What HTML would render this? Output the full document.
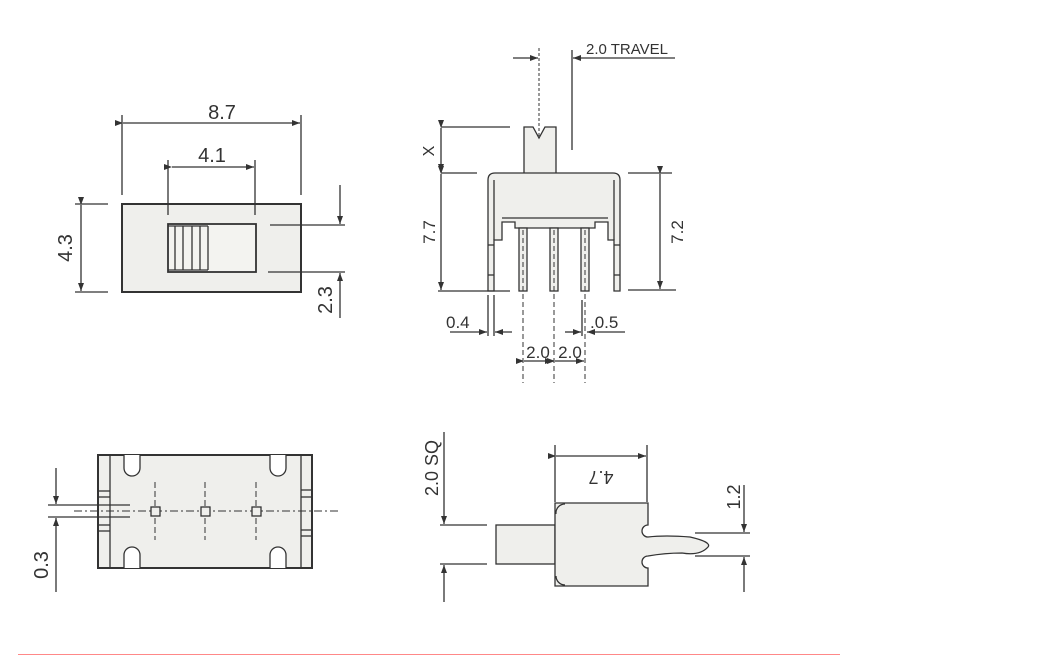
<!DOCTYPE html>
<html><head><meta charset="utf-8"><style>
html,body{margin:0;padding:0;background:#fff;}
svg{display:block;}
text{font-family:"Liberation Sans",sans-serif;fill:#333;}
</style></head><body>
<svg width="1049" height="655" viewBox="0 0 1049 655" xmlns="http://www.w3.org/2000/svg">
<defs>
<marker id="a" markerWidth="8" markerHeight="6" refX="8" refY="3" orient="auto" markerUnits="userSpaceOnUse"><path d="M0,0 L8,3 L0,6 Z" fill="#333"/></marker>
</defs>
<g stroke="#333" stroke-width="1.3" fill="none">
<!-- View 1 -->
<rect x="122" y="204" width="179" height="88" fill="#efefec" stroke-width="2"/>
<rect x="168" y="224" width="88" height="48" fill="#f3f3f0" stroke-width="1.8"/>
<line x1="175" y1="226" x2="175" y2="270"/><line x1="183" y1="226" x2="183" y2="270"/>
<line x1="192" y1="226" x2="192" y2="270"/><line x1="200" y1="226" x2="200" y2="270"/>
<line x1="208" y1="226" x2="208" y2="270"/>
<line x1="168" y1="226" x2="208" y2="226"/><line x1="168" y1="270" x2="208" y2="270"/>
<line x1="122" y1="115" x2="122" y2="195"/><line x1="301" y1="115" x2="301" y2="195"/>
<line x1="123" y1="123" x2="300" y2="123" marker-start="url(#a)" marker-end="url(#a)"/>
<line x1="168" y1="160" x2="168" y2="215"/><line x1="255" y1="160" x2="255" y2="215"/>
<line x1="172" y1="167" x2="254" y2="167" marker-start="url(#a)" marker-end="url(#a)"/>
<line x1="75" y1="204" x2="108" y2="204"/><line x1="75" y1="292" x2="108" y2="292"/>
<line x1="81" y1="205" x2="81" y2="291" marker-start="url(#a)" marker-end="url(#a)"/>
<line x1="270" y1="225" x2="345" y2="225"/><line x1="268" y1="272" x2="345" y2="272"/>
<line x1="340" y1="185" x2="340" y2="224" marker-end="url(#a)"/>
<line x1="340" y1="318" x2="340" y2="273" marker-end="url(#a)"/>
<!-- View 2 -->
<line x1="539" y1="48" x2="539" y2="178" stroke-dasharray="3,2" stroke-width="1"/>
<line x1="513" y1="58" x2="538" y2="58" marker-end="url(#a)"/>
<line x1="675" y1="58" x2="573" y2="58" marker-end="url(#a)"/>
<line x1="572" y1="50" x2="572" y2="150"/>
<path d="M524,173 L524,127 L533,127 L539,138 L545,127 L556,127 L556,173" fill="#efefec"/>
<path d="M488,291 L488,180 Q488,173 495,173 L613,173 Q620,173 620,180 L620,291 L614,291 L614,240 L608,240 L608,222 L595,222 L595,228 L515,228 L515,222 L502,222 L502,240 L494,240 L494,291 Z" fill="#efefec"/>
<line x1="494" y1="180" x2="494" y2="240"/><line x1="614" y1="180" x2="614" y2="240"/>
<line x1="502" y1="218" x2="608" y2="218"/>
<line x1="488" y1="245" x2="494" y2="245"/><line x1="614" y1="245" x2="620" y2="245"/>
<line x1="488" y1="275" x2="494" y2="275"/><line x1="614" y1="275" x2="620" y2="275"/>
<rect x="519" y="228" width="8" height="63" fill="#efefec"/>
<rect x="550" y="228" width="8" height="63" fill="#efefec"/>
<rect x="581" y="228" width="8" height="63" fill="#efefec"/>
<g stroke-dasharray="5,3" stroke-width="1">
<line x1="523" y1="230" x2="523" y2="383"/><line x1="554" y1="230" x2="554" y2="383"/><line x1="585" y1="230" x2="585" y2="383"/>
</g>
<line x1="441" y1="127" x2="510" y2="127"/><line x1="441" y1="173" x2="477" y2="173"/><line x1="438" y1="291" x2="510" y2="291"/>
<line x1="441" y1="128" x2="441" y2="172" marker-start="url(#a)" marker-end="url(#a)"/>
<line x1="441" y1="174" x2="441" y2="290" marker-start="url(#a)" marker-end="url(#a)"/>
<line x1="628" y1="173" x2="672" y2="173"/><line x1="628" y1="290" x2="676" y2="290"/>
<line x1="660" y1="174" x2="660" y2="289" marker-start="url(#a)" marker-end="url(#a)"/>
<line x1="488" y1="295" x2="488" y2="336"/><line x1="494" y1="295" x2="494" y2="336"/>
<line x1="450" y1="332" x2="487" y2="332" marker-end="url(#a)"/>
<line x1="512" y1="332" x2="495" y2="332" marker-end="url(#a)"/>
<line x1="582" y1="300" x2="582" y2="336"/>
<line x1="565" y1="332" x2="581" y2="332" marker-end="url(#a)"/>
<line x1="625" y1="332" x2="587" y2="332" marker-end="url(#a)"/>
<line x1="524" y1="361" x2="553" y2="361" marker-start="url(#a)" marker-end="url(#a)"/>
<line x1="555" y1="361" x2="584" y2="361" marker-start="url(#a)" marker-end="url(#a)"/>
<!-- View 3 -->
<rect x="98" y="455" width="214" height="113" fill="#efefec" stroke-width="2"/>
<line x1="110" y1="455" x2="110" y2="568"/><line x1="301" y1="455" x2="301" y2="568"/>
<path d="M124,455 L124,468 A8,8 0 0 0 140,468 L140,455" fill="#fff"/>
<path d="M270,455 L270,468 A8,8 0 0 0 286,468 L286,455" fill="#fff"/>
<path d="M124,568 L124,555 A8,8 0 0 1 140,555 L140,568" fill="#fff"/>
<path d="M270,568 L270,555 A8,8 0 0 1 286,555 L286,568" fill="#fff"/>
<line x1="98" y1="491" x2="110" y2="491"/><line x1="98" y1="497" x2="110" y2="497"/>
<line x1="98" y1="525" x2="110" y2="525"/><line x1="98" y1="531" x2="110" y2="531"/>
<line x1="301" y1="490" x2="312" y2="490"/><line x1="301" y1="497" x2="312" y2="497"/>
<line x1="301" y1="530" x2="312" y2="530"/><line x1="301" y1="536" x2="312" y2="536"/>
<line x1="74" y1="511" x2="340" y2="511" stroke-dasharray="8,3,2,3" stroke-width="1"/>
<g stroke-dasharray="6,3" stroke-width="1">
<line x1="155" y1="482" x2="155" y2="540"/><line x1="205" y1="482" x2="205" y2="540"/><line x1="256" y1="482" x2="256" y2="540"/>
</g>
<rect x="151" y="507" width="9" height="9" fill="#efefec"/>
<rect x="201" y="507" width="9" height="9" fill="#efefec"/>
<rect x="252" y="507" width="9" height="9" fill="#efefec"/>
<line x1="48" y1="505" x2="130" y2="505"/><line x1="48" y1="517" x2="130" y2="517"/>
<line x1="56" y1="468" x2="56" y2="504" marker-end="url(#a)"/>
<line x1="56" y1="592" x2="56" y2="518" marker-end="url(#a)"/>
<!-- View 4 -->
<rect x="496" y="525" width="59" height="39" fill="#efefec"/>
<path d="M555,503 L648,503 L648,525 A6,6 0 0 0 648,537 Q665,535 690,537 Q712,542 708,547 Q700,556 682,553 Q665,553 648,556 A6,6 0 0 0 648,568 L648,586 L555,586 Z" fill="#efefec"/>
<path d="M556,514 A9,9 0 0 1 565,504"/><path d="M556,576 A9,9 0 0 0 565,585"/>
<line x1="555" y1="445" x2="555" y2="502"/><line x1="647" y1="445" x2="647" y2="502"/>
<line x1="556" y1="456" x2="646" y2="456" marker-start="url(#a)" marker-end="url(#a)"/>
<line x1="440" y1="525" x2="487" y2="525"/><line x1="440" y1="564" x2="487" y2="564"/>
<line x1="444" y1="432" x2="444" y2="524" marker-end="url(#a)"/>
<line x1="444" y1="602" x2="444" y2="565" marker-end="url(#a)"/>
<line x1="695" y1="533" x2="750" y2="533"/><line x1="695" y1="556" x2="750" y2="556"/>
<line x1="744" y1="485" x2="744" y2="532" marker-end="url(#a)"/>
<line x1="744" y1="592" x2="744" y2="557" marker-end="url(#a)"/>
</g>
<g font-size="20">
<text x="222" y="119" text-anchor="middle">8.7</text>
<text x="212" y="162" text-anchor="middle">4.1</text>
<text transform="translate(72,248) rotate(-90)" text-anchor="middle">4.3</text>
<text transform="translate(332,300) rotate(-90)" text-anchor="middle">2.3</text>
<text x="586" y="54" font-size="15">2.0 TRAVEL</text>
<text transform="translate(434,151) rotate(-90)" text-anchor="middle" font-size="16">X</text>
<text transform="translate(435,232) rotate(-90)" text-anchor="middle" font-size="17">7.7</text>
<text transform="translate(683,232) rotate(-90)" text-anchor="middle" font-size="17">7.2</text>
<text x="446" y="328" font-size="17">0.4</text>
<text x="590" y="328" font-size="17">.0.5</text>
<text x="538" y="358" text-anchor="middle" font-size="17">2.0</text>
<text x="570" y="358" text-anchor="middle" font-size="17">2.0</text>
<text transform="translate(48,565) rotate(-90)" text-anchor="middle">0.3</text>
<text transform="translate(438,468) rotate(-90)" text-anchor="middle" font-size="18">2.0 SQ</text>
<text transform="translate(601,471) rotate(180)" text-anchor="middle" font-size="18">4.7</text>
<text transform="translate(740,497) rotate(-90)" text-anchor="middle" font-size="18">1.2</text>
</g>
<line x1="18" y1="655" x2="840" y2="655" stroke="#f88" stroke-width="2"/>
</svg>
</body></html>
